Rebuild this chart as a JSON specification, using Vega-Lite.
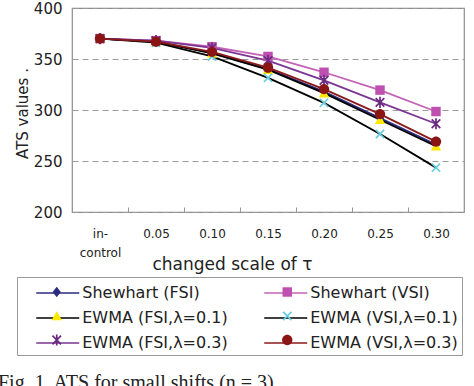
{
  "$schema": "https://vega.github.io/schema/vega-lite/v6.json",
  "width": 392,
  "height": 204,
  "autosize": {"type": "none"},
  "padding": {"left": 72, "top": 8, "right": 10, "bottom": 174},
  "background": "white",
  "config": {
    "font": "DejaVu Sans",
    "view": {"stroke": "#8c8c8c", "strokeWidth": 1.2}
  },
  "title": {
    "text": "Fig. 1. ATS for small shifts (n = 3)",
    "orient": "bottom",
    "anchor": "start",
    "font": "Liberation Serif",
    "fontSize": 20,
    "fontWeight": "normal",
    "color": "#222222",
    "dx": -17,
    "offset": 17
  },
  "data": {
    "values": [
      {"x": "in-control", "series": "Shewhart (FSI)", "marker": "Shewhart (FSI)", "k": 1, "ats": 370},
      {"x": "0.05", "series": "Shewhart (FSI)", "marker": "Shewhart (FSI)", "k": 1, "ats": 367},
      {"x": "0.10", "series": "Shewhart (FSI)", "marker": "Shewhart (FSI)", "k": 1, "ats": 356},
      {"x": "0.15", "series": "Shewhart (FSI)", "marker": "Shewhart (FSI)", "k": 1, "ats": 340},
      {"x": "0.20", "series": "Shewhart (FSI)", "marker": "Shewhart (FSI)", "k": 1, "ats": 318},
      {"x": "0.25", "series": "Shewhart (FSI)", "marker": "Shewhart (FSI)", "k": 1, "ats": 292},
      {"x": "0.30", "series": "Shewhart (FSI)", "marker": "Shewhart (FSI)", "k": 1, "ats": 266},
      {"x": "in-control", "series": "Shewhart (VSI)", "marker": "Shewhart (VSI)", "k": 4, "ats": 370},
      {"x": "0.05", "series": "Shewhart (VSI)", "marker": "Shewhart (VSI)", "k": 4, "ats": 368},
      {"x": "0.10", "series": "Shewhart (VSI)", "marker": "Shewhart (VSI)", "k": 4, "ats": 362},
      {"x": "0.15", "series": "Shewhart (VSI)", "marker": "Shewhart (VSI)", "k": 4, "ats": 352.5},
      {"x": "0.20", "series": "Shewhart (VSI)", "marker": "Shewhart (VSI)", "k": 4, "ats": 337},
      {"x": "0.25", "series": "Shewhart (VSI)", "marker": "Shewhart (VSI)", "k": 4, "ats": 319.5},
      {"x": "0.30", "series": "Shewhart (VSI)", "marker": "Shewhart (VSI)", "k": 4, "ats": 298.5},
      {"x": "in-control", "series": "EWMA (FSI,λ=0.1)", "marker": "EWMA (FSI,λ=0.1)", "k": 2, "ats": 370},
      {"x": "0.05", "series": "EWMA (FSI,λ=0.1)", "marker": "EWMA (FSI,λ=0.1)", "k": 2, "ats": 367},
      {"x": "0.10", "series": "EWMA (FSI,λ=0.1)", "marker": "EWMA (FSI,λ=0.1)", "k": 2, "ats": 355.5},
      {"x": "0.15", "series": "EWMA (FSI,λ=0.1)", "marker": "EWMA (FSI,λ=0.1)", "k": 2, "ats": 339.5},
      {"x": "0.20", "series": "EWMA (FSI,λ=0.1)", "marker": "EWMA (FSI,λ=0.1)", "k": 2, "ats": 316.5},
      {"x": "0.25", "series": "EWMA (FSI,λ=0.1)", "marker": "EWMA (FSI,λ=0.1)", "k": 2, "ats": 290.5},
      {"x": "0.30", "series": "EWMA (FSI,λ=0.1)", "marker": "EWMA (FSI,λ=0.1)", "k": 2, "ats": 264.5},
      {"x": "in-control", "series": "EWMA (VSI,λ=0.1)", "marker": "EWMA (VSI,λ=0.1)", "k": 5, "ats": 370},
      {"x": "0.05", "series": "EWMA (VSI,λ=0.1)", "marker": "EWMA (VSI,λ=0.1)", "k": 5, "ats": 366},
      {"x": "0.10", "series": "EWMA (VSI,λ=0.1)", "marker": "EWMA (VSI,λ=0.1)", "k": 5, "ats": 352.5},
      {"x": "0.15", "series": "EWMA (VSI,λ=0.1)", "marker": "EWMA (VSI,λ=0.1)", "k": 5, "ats": 331.5},
      {"x": "0.20", "series": "EWMA (VSI,λ=0.1)", "marker": "EWMA (VSI,λ=0.1)", "k": 5, "ats": 307},
      {"x": "0.25", "series": "EWMA (VSI,λ=0.1)", "marker": "EWMA (VSI,λ=0.1)", "k": 5, "ats": 276.5},
      {"x": "0.30", "series": "EWMA (VSI,λ=0.1)", "marker": "EWMA (VSI,λ=0.1)", "k": 5, "ats": 243.5},
      {"x": "in-control", "series": "EWMA (FSI,λ=0.3)", "marker": "EWMA (FSI,λ=0.3)", "k": 3, "ats": 370},
      {"x": "0.05", "series": "EWMA (FSI,λ=0.3)", "marker": "EWMA (FSI,λ=0.3)", "k": 3, "ats": 368},
      {"x": "0.10", "series": "EWMA (FSI,λ=0.3)", "marker": "EWMA (FSI,λ=0.3)", "k": 3, "ats": 361},
      {"x": "0.15", "series": "EWMA (FSI,λ=0.3)", "marker": "EWMA (FSI,λ=0.3)", "k": 3, "ats": 348.5},
      {"x": "0.20", "series": "EWMA (FSI,λ=0.3)", "marker": "EWMA (FSI,λ=0.3)", "k": 3, "ats": 329},
      {"x": "0.25", "series": "EWMA (FSI,λ=0.3)", "marker": "EWMA (FSI,λ=0.3)", "k": 3, "ats": 307.5},
      {"x": "0.30", "series": "EWMA (FSI,λ=0.3)", "marker": "EWMA (FSI,λ=0.3)", "k": 3, "ats": 286.5},
      {"x": "in-control", "series": "EWMA (VSI,λ=0.3)", "marker": "EWMA (VSI,λ=0.3)", "k": 6, "ats": 370},
      {"x": "0.05", "series": "EWMA (VSI,λ=0.3)", "marker": "EWMA (VSI,λ=0.3)", "k": 6, "ats": 367},
      {"x": "0.10", "series": "EWMA (VSI,λ=0.3)", "marker": "EWMA (VSI,λ=0.3)", "k": 6, "ats": 357},
      {"x": "0.15", "series": "EWMA (VSI,λ=0.3)", "marker": "EWMA (VSI,λ=0.3)", "k": 6, "ats": 341.5},
      {"x": "0.20", "series": "EWMA (VSI,λ=0.3)", "marker": "EWMA (VSI,λ=0.3)", "k": 6, "ats": 320.5},
      {"x": "0.25", "series": "EWMA (VSI,λ=0.3)", "marker": "EWMA (VSI,λ=0.3)", "k": 6, "ats": 296},
      {"x": "0.30", "series": "EWMA (VSI,λ=0.3)", "marker": "EWMA (VSI,λ=0.3)", "k": 6, "ats": 269}
    ]
  },
  "encoding": {
    "x": {
      "field": "x",
      "type": "ordinal",
      "sort": ["in-control", "0.05", "0.10", "0.15", "0.20", "0.25", "0.30"],
      "scale": {"paddingInner": 0, "paddingOuter": 0},
      "axis": {
        "title": "changed scale of τ",
        "titleFont": "DejaVu Sans",
        "titleFontSize": 17,
        "titleFontWeight": "normal",
        "titleColor": "#222222",
        "titleX": 160,
        "titleY": 57,
        "titleAlign": "center",
        "titleBaseline": "alphabetic",
        "labelAngle": 0,
        "labelFontSize": 12,
        "labelColor": "#222222",
        "labelLineHeight": 19,
        "labelPadding": 21,
        "labelExpr": "datum.label == 'in-control' ? ['in-', 'control'] : datum.label",
        "domain": false,
        "ticks": true,
        "tickBand": "extent",
        "tickSize": -5,
        "tickColor": "#999999",
        "grid": false
      }
    },
    "y": {
      "field": "ats",
      "type": "quantitative",
      "scale": {"domain": [200, 400], "nice": false, "zero": false},
      "axis": {
        "title": "ATS values   .",
        "titleFont": "DejaVu Sans",
        "titleFontSize": 15,
        "titleFontWeight": "normal",
        "titleColor": "#222222",
        "titleX": -45,
        "titleY": 105,
        "titleAlign": "center",
        "titleBaseline": "alphabetic",
        "titleAngle": -90,
        "values": [200, 250, 300, 350, 400],
        "labelFontSize": 15,
        "labelColor": "#222222",
        "labelPadding": 10,
        "ticks": false,
        "tickSize": 0,
        "domain": false,
        "grid": true,
        "gridColor": "#9a9a9a",
        "gridDash": [6, 4],
        "gridWidth": 1
      }
    }
  },
  "layer": [
    {
      "mark": {"type": "line", "strokeWidth": 1.8},
      "encoding": {
        "stroke": {
          "field": "series",
          "type": "nominal",
          "sort": {"field": "k", "op": "min"},
          "scale": {"range": ["#2b2b80", "#000000", "#7a3592", "#c462b6", "#000000", "#8b1a1a"]},
          "legend": {
            "title": null,
            "orient": "none",
            "legendX": -55,
            "legendY": 269,
            "columns": 2,
            "columnPadding": 21,
            "rowPadding": 5,
            "padding": 4,
            "symbolType": "M-2,0H2",
            "symbolSize": 462,
            "symbolOffset": 24.75,
            "symbolStrokeWidth": 1.6,
            "symbolFillColor": "transparent",
            "labelFont": "DejaVu Sans",
            "labelFontSize": 16,
            "labelColor": "#222222",
            "labelOffset": 12.5,
            "labelLimit": 300,
            "strokeColor": "#999999",
            "fillColor": "white",
            "zindex": 0
          }
        }
      }
    },
    {
      "mark": {"type": "point", "filled": true, "size": 462, "strokeWidth": 0, "opacity": 1},
      "encoding": {
        "fill": {
          "field": "marker",
          "type": "nominal",
          "sort": {"field": "k", "op": "min"},
          "scale": {"range": ["#2b2b80", "#ffe800", "#6a2a80", "#c050b0", "#66ccdd", "#8b1414"]},
          "legend": {
            "title": null,
            "orient": "none",
            "legendX": -55,
            "legendY": 269,
            "columns": 2,
            "columnPadding": 170.5,
            "rowPadding": 5,
            "padding": 4,
            "symbolSize": 462,
            "symbolOffset": 24.75,
            "symbolStrokeWidth": 0,
            "labelExpr": "' '",
            "labelFont": "DejaVu Sans",
            "labelFontSize": 16,
            "labelOffset": 12.5,
            "zindex": 1
          }
        },
        "shape": {
          "field": "marker",
          "type": "nominal",
          "sort": {"field": "k", "op": "min"},
          "scale": {"range": [
            "M0,-0.48L0.38,0L0,0.48L-0.38,0Z",
            "M0,-0.44L0.48,0.4H-0.48Z",
            "M0.456,0.344L0.344,0.456L-0.456,-0.344L-0.344,-0.456ZM0.344,-0.456L0.456,-0.344L-0.344,0.456L-0.456,0.344ZM-0.08,-0.52H0.08V0.52H-0.08Z",
            "M-0.44,-0.44H0.44V0.44H-0.44Z",
            "M-0.44,-0.33L-0.33,-0.44L0,-0.11L0.33,-0.44L0.44,-0.33L0.11,0L0.44,0.33L0.33,0.44L0,0.11L-0.33,0.44L-0.44,0.33L-0.11,0Z",
            "M-0.48,0A0.48,0.48,0,1,1,0.48,0A0.48,0.48,0,1,1,-0.48,0Z"
          ]}
        }
      }
    }
  ]
}
